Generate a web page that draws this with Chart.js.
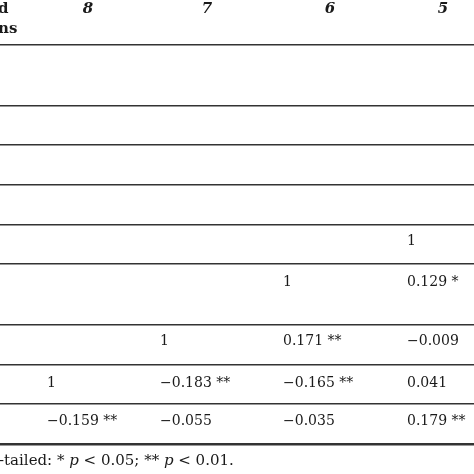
<!DOCTYPE html>
<html>
<head>
<meta charset="utf-8">
<script src="https://cdn.jsdelivr.net/npm/chart.js@4"></script>
<style>
  html, body { margin: 0; padding: 0; background: #fff; }
  #wrap { width: 474px; height: 474px; }
</style>
</head>
<body>
<div id="wrap"><canvas id="c"></canvas></div>
<script>
// table content
const colHeaders = ['8', '7', '6', '5'];
const rowValues = [
  ['', '', '', ''],
  ['', '', '', ''],
  ['', '', '', ''],
  ['', '', '', ''],
  ['', '', '', '1'],
  ['', '', '1', '0.129 *'],
  ['', '1', '0.171 **', '\u22120.009'],
  ['1', '\u22120.183 **', '\u22120.165 **', '0.041'],
  ['\u22120.159 **', '\u22120.055', '\u22120.035', '0.179 **']
];
const footnote = ['-tailed: * ', 'p', ' < 0.05; ** ', 'p', ' < 0.01.'];

// layout (pixels)
const colLeft = [47, 160, 283, 407];
const headerX = [88, 207, 330, 443];
const rowTextY = [62, 122, 162, 202, 241, 282, 341, 383, 421];
const rules = [45, 106, 145, 185, 225, 264, 325, 365, 404, 444];
const serif = '"DejaVu Serif", serif';

const cells = [];
rowValues.forEach((row, r) => row.forEach((v, c) => {
  if (v) cells.push({ x: colLeft[c], y: rowTextY[r], text: v });
}));

const textPlugin = {
  id: 'tableText',
  afterDraw(chart) {
    const { ctx, scales: { x, y } } = chart;
    ctx.save();
    ctx.fillStyle = '#1a1a1a';
    ctx.textBaseline = 'middle';
    ctx.font = '14px ' + serif;
    ctx.textAlign = 'left';
    chart.data.datasets[0].data.forEach((p) => {
      ctx.fillText(p.text, x.getPixelForValue(p.x), y.getPixelForValue(p.y));
    });
    ctx.font = 'italic bold 15px ' + serif;
    ctx.textAlign = 'center';
    colHeaders.forEach((h, i) => ctx.fillText(h, x.getPixelForValue(headerX[i]), y.getPixelForValue(9)));
    ctx.font = 'bold 15px ' + serif;
    ctx.textAlign = 'left';
    ctx.fillText('d', x.getPixelForValue(-2), y.getPixelForValue(9));
    ctx.fillText('ns', x.getPixelForValue(-2), y.getPixelForValue(29));
    let px = x.getPixelForValue(-1);
    const py = y.getPixelForValue(461);
    footnote.forEach((s) => {
      ctx.font = (s === 'p' ? 'italic ' : '') + '15px ' + serif;
      ctx.fillText(s, px, py);
      px += ctx.measureText(s).width;
    });
    ctx.restore();
  }
};

new Chart(document.getElementById('c'), {
  type: 'scatter',
  data: { datasets: [{ data: cells, pointRadius: 0 }] },
  options: {
    responsive: true,
    maintainAspectRatio: false,
    animation: false,
    layout: { padding: 0 },
    plugins: { legend: { display: false }, tooltip: { enabled: false } },
    scales: {
      x: { type: 'linear', min: 0, max: 474, display: false },
      y: {
        type: 'linear', min: 0, max: 474, reverse: true,
        afterFit: (s) => { s.width = 0; },
        afterBuildTicks: (s) => { s.ticks = rules.map((v) => ({ value: v })); },
        ticks: { display: false },
        border: { display: false },
        grid: {
          drawTicks: false,
          color: '#333',
          lineWidth: (ctx) => (ctx.index === rules.length - 1 ? 2.5 : 1.6)
        }
      }
    }
  },
  plugins: [textPlugin]
});
</script>
</body>
</html>
